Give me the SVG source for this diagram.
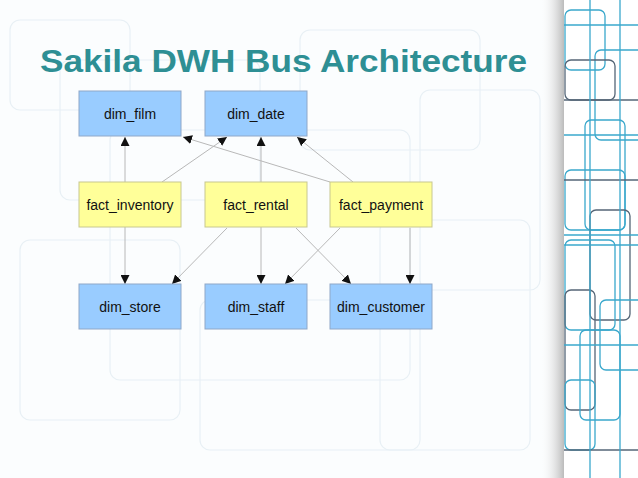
<svg xmlns="http://www.w3.org/2000/svg" width="638" height="478" viewBox="0 0 638 478">
<defs>
<style>
.dim{fill:#99ccff;stroke:#8fa8c8;stroke-width:1}
.fact{fill:#ffff99;stroke:#c8c88f;stroke-width:1}
.t{font-family:"Liberation Sans",Arial,sans-serif;font-size:14px;fill:#111;text-anchor:middle}
.c{stroke:#b8b8b8;stroke-width:1;fill:none;marker-end:url(#ah)}
.bg{fill:none;stroke:#e8f0f5;stroke-width:1.2}
.rs{fill:none;stroke:#3aa8cc;stroke-width:1.3}
.rd{fill:none;stroke:#556677;stroke-width:1.3}
</style>
<marker id="ah" viewBox="0 0 10 10" refX="10" refY="5" markerWidth="9" markerHeight="9" orient="auto" markerUnits="userSpaceOnUse"><path d="M0,0 L10,5 L0,10 z" fill="#111"/></marker>
<linearGradient id="sh" x1="0" x2="1"><stop offset="0" stop-color="#fff" stop-opacity="0"/><stop offset="1" stop-color="#bbb"/></linearGradient>
</defs>
<rect width="638" height="478" fill="#fbfdfe"/>
<g id="background">
<rect class="bg" x="10" y="20" width="120" height="90" rx="10"/>
<rect class="bg" x="60" y="60" width="200" height="140" rx="10"/>
<rect class="bg" x="300" y="30" width="180" height="120" rx="10"/>
<rect class="bg" x="420" y="90" width="120" height="200" rx="10"/>
<rect class="bg" x="20" y="240" width="160" height="180" rx="10"/>
<rect class="bg" x="200" y="300" width="220" height="150" rx="10"/>
<rect class="bg" x="380" y="220" width="150" height="230" rx="10"/>
<rect class="bg" x="110" y="130" width="300" height="250" rx="10"/>
<rect x="540" y="0" width="24" height="478" fill="url(#sh)"/>
<rect x="564" y="0" width="74" height="478" fill="#fff"/>
<rect class="rs" x="565" y="10" width="40" height="60" rx="6"/>
<rect class="rs" x="595" y="50" width="50" height="90" rx="6"/>
<rect class="rd" x="565" y="60" width="50" height="40" rx="6"/>
<rect class="rs" x="585" y="120" width="40" height="110" rx="6"/>
<rect class="rs" x="565" y="170" width="60" height="60" rx="6"/>
<rect class="rd" x="590" y="210" width="40" height="110" rx="6"/>
<rect class="rs" x="565" y="240" width="50" height="90" rx="6"/>
<rect class="rs" x="600" y="300" width="45" height="70" rx="6"/>
<rect class="rd" x="565" y="290" width="30" height="120" rx="6"/>
<rect class="rs" x="580" y="330" width="40" height="90" rx="6"/>
<rect class="rs" x="565" y="380" width="30" height="70" rx="6"/>
<line class="rs" x1="564" y1="25" x2="638" y2="25"/>
<line class="rd" x1="564" y1="100" x2="638" y2="100"/>
<line class="rs" x1="564" y1="135" x2="638" y2="135"/>
<line class="rd" x1="564" y1="180" x2="638" y2="180"/>
<line class="rs" x1="564" y1="235" x2="638" y2="235"/>
<line class="rs" x1="564" y1="245" x2="638" y2="245"/>
<line class="rs" x1="564" y1="345" x2="638" y2="345"/>
<line class="rd" x1="564" y1="450" x2="638" y2="450"/>
<line class="rs" x1="590" y1="0" x2="590" y2="478"/>
<line class="rs" x1="620" y1="0" x2="620" y2="478"/>
</g>
<text x="40" y="72" font-family="Liberation Sans,Arial,sans-serif" font-weight="bold" font-size="32" fill="#2e8f94" textLength="487" lengthAdjust="spacingAndGlyphs">Sakila DWH Bus Architecture</text>
<g id="connectors">
<line class="c" x1="125" y1="182" x2="125" y2="137"/>
<line class="c" x1="162" y1="182" x2="227" y2="137"/>
<line class="c" x1="261" y1="182" x2="261" y2="137"/>
<line class="c" x1="353" y1="182" x2="297" y2="137"/>
<line class="c" x1="330" y1="182" x2="183" y2="137"/>
<line class="c" x1="125" y1="227" x2="125" y2="284"/>
<line class="c" x1="227" y1="228" x2="172" y2="284"/>
<line class="c" x1="261" y1="227" x2="261" y2="284"/>
<line class="c" x1="296" y1="228" x2="351" y2="284"/>
<line class="c" x1="340" y1="228" x2="285" y2="284"/>
<line class="c" x1="410" y1="228" x2="410" y2="284"/>
</g>
<g id="dim_film"><rect class="dim" x="79" y="91" width="102" height="45"/><text class="t" x="130" y="119">dim_film</text></g>
<g id="dim_date"><rect class="dim" x="205" y="91" width="102" height="45"/><text class="t" x="256" y="119">dim_date</text></g>
<g id="fact_inventory"><rect class="fact" x="79" y="182" width="102" height="45"/><text class="t" x="130" y="210">fact_inventory</text></g>
<g id="fact_rental"><rect class="fact" x="205" y="182" width="102" height="45"/><text class="t" x="256" y="210">fact_rental</text></g>
<g id="fact_payment"><rect class="fact" x="330" y="182" width="102" height="45"/><text class="t" x="381" y="210">fact_payment</text></g>
<g id="dim_store"><rect class="dim" x="79" y="284" width="102" height="45"/><text class="t" x="130" y="312">dim_store</text></g>
<g id="dim_staff"><rect class="dim" x="205" y="284" width="102" height="45"/><text class="t" x="256" y="312">dim_staff</text></g>
<g id="dim_customer"><rect class="dim" x="330" y="284" width="102" height="45"/><text class="t" x="381" y="312">dim_customer</text></g>
</svg>
